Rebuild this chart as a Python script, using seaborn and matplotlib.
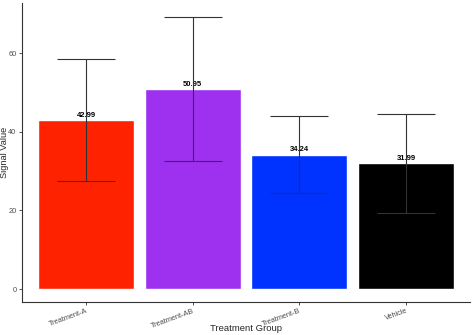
import numpy as np
import matplotlib as mpl
mpl.use("Agg")
import matplotlib.pyplot as plt
import seaborn as sns

# data
groups = ["Treatment-A", "Treatment-AB", "Treatment-B", "Vehicle"]
means = [42.99, 50.95, 34.24, 31.99]
sds = [15.6, 18.3, 9.8, 12.6]
colors = ["#FF2200", "#9D31EF", "#0033FF", "#000000"]

sns.set_style("ticks")
plt.rcParams["font.family"] = ["Liberation Sans", "DejaVu Sans"]

fig = plt.figure(figsize=(4.74, 3.35), dpi=100)
ax = fig.add_axes([0.0464, 0.0985, 0.9452, 0.8925])

sns.barplot(x=groups, y=means, hue=groups, palette=colors, legend=False,
            width=0.9, saturation=1, ax=ax)
for i, (m, s) in enumerate(zip(means, sds)):
    ax.text(i, m + 0.3, f"{m:.2f}", ha="center", va="bottom", fontsize=5.5,
            fontweight="bold", color="black", zorder=3)
ax.errorbar(range(len(groups)), means, yerr=sds, fmt="none", ecolor="#333333",
            elinewidth=0.8, capsize=21, capthick=0.8, zorder=4)

ax.set_xlim(-0.6, 3.6)
ax.set_ylim(-3.3, 72.8)
ax.set_yticks([0, 20, 40, 60])
sns.despine(ax=ax)
for sp in ax.spines.values():
    sp.set_linewidth(0.8)
    sp.set_color("#333333")
ax.tick_params(axis="both", labelsize=5.3, labelcolor="#4d4d4d", length=2.5,
               width=0.6, color="#333333", pad=1.5)
plt.setp(ax.get_xticklabels(), rotation=20, ha="right", rotation_mode="anchor")
ax.set_xlabel("Treatment Group", fontsize=6.8)
ax.set_ylabel("Signal Value", fontsize=6.6)
ax.xaxis.set_label_coords(0.5, -0.075)
ax.yaxis.set_label_coords(-0.03, 0.5)

fig.savefig("out.png", dpi=100)
